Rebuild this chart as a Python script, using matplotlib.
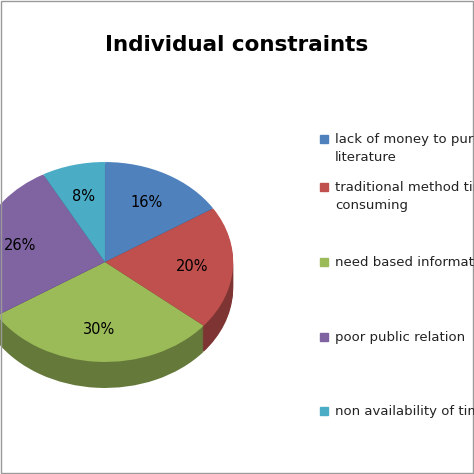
import matplotlib
matplotlib.use("Agg")
import matplotlib.pyplot as plt
import matplotlib.colors as mcolors

labels = ["lack of money to purchase\nliterature", "traditional method time\nconsuming",
          "need based information", "poor public relation", "non availability of time"]
values = [16, 20, 30, 26, 8]
colors = ["#4F81BD", "#C0504D", "#9BBB59", "#8064A2", "#4BACC6"]

S = 0.78  # vertical squash for the tilted look
H = 474


def py(y):
    return (H - y) / S


fig = plt.figure(figsize=(4.74, 4.74), dpi=100)
ax = fig.add_axes([0, 0, 1, 1])

cx, cy, r = 105, 262, 128
explode = [0.16, 0.16, 0.16, 0.16, 0.22]
dark = [tuple(c * 0.65 for c in mcolors.to_rgb(col)) for col in colors]
for d in range(26, 0, -2):
    ax.pie(values, colors=dark, startangle=90, counterclock=False, explode=explode,
           center=(cx, py(cy + d)), radius=r, frame=True)
ax.pie(values, colors=colors, startangle=90, counterclock=False, explode=explode,
       center=(cx, py(cy)), radius=r, frame=True,
       autopct="%d%%", pctdistance=0.68, textprops={"fontsize": 10.5})
ax.set_aspect("auto")
ax.set_xlim(0, 474)
ax.set_ylim(0, H / S)
ax.set_axis_off()

fig.text(0.5, 1 - 45 / H, "Individual constraints", ha="center", va="center",
         fontsize=15.5, fontweight="bold")

leg_y = [133, 181, 256, 331, 405]
for lab, col, y in zip(labels, colors, leg_y):
    fig.patches.append(plt.Rectangle((320 / H, 1 - (y + 10) / H), 8 / H, 8 / H,
                                     transform=fig.transFigure, color=col, figure=fig))
    fig.text(335 / H, 1 - y / H, lab, ha="left", va="top", fontsize=9.5,
             linespacing=1.5, color="#222222")

fig.patches.append(plt.Rectangle((0.002, 0.002), 0.996, 0.996, transform=fig.transFigure,
                                 fill=False, edgecolor="#999999", lw=1, figure=fig))
fig.savefig("out.png", dpi=100)
